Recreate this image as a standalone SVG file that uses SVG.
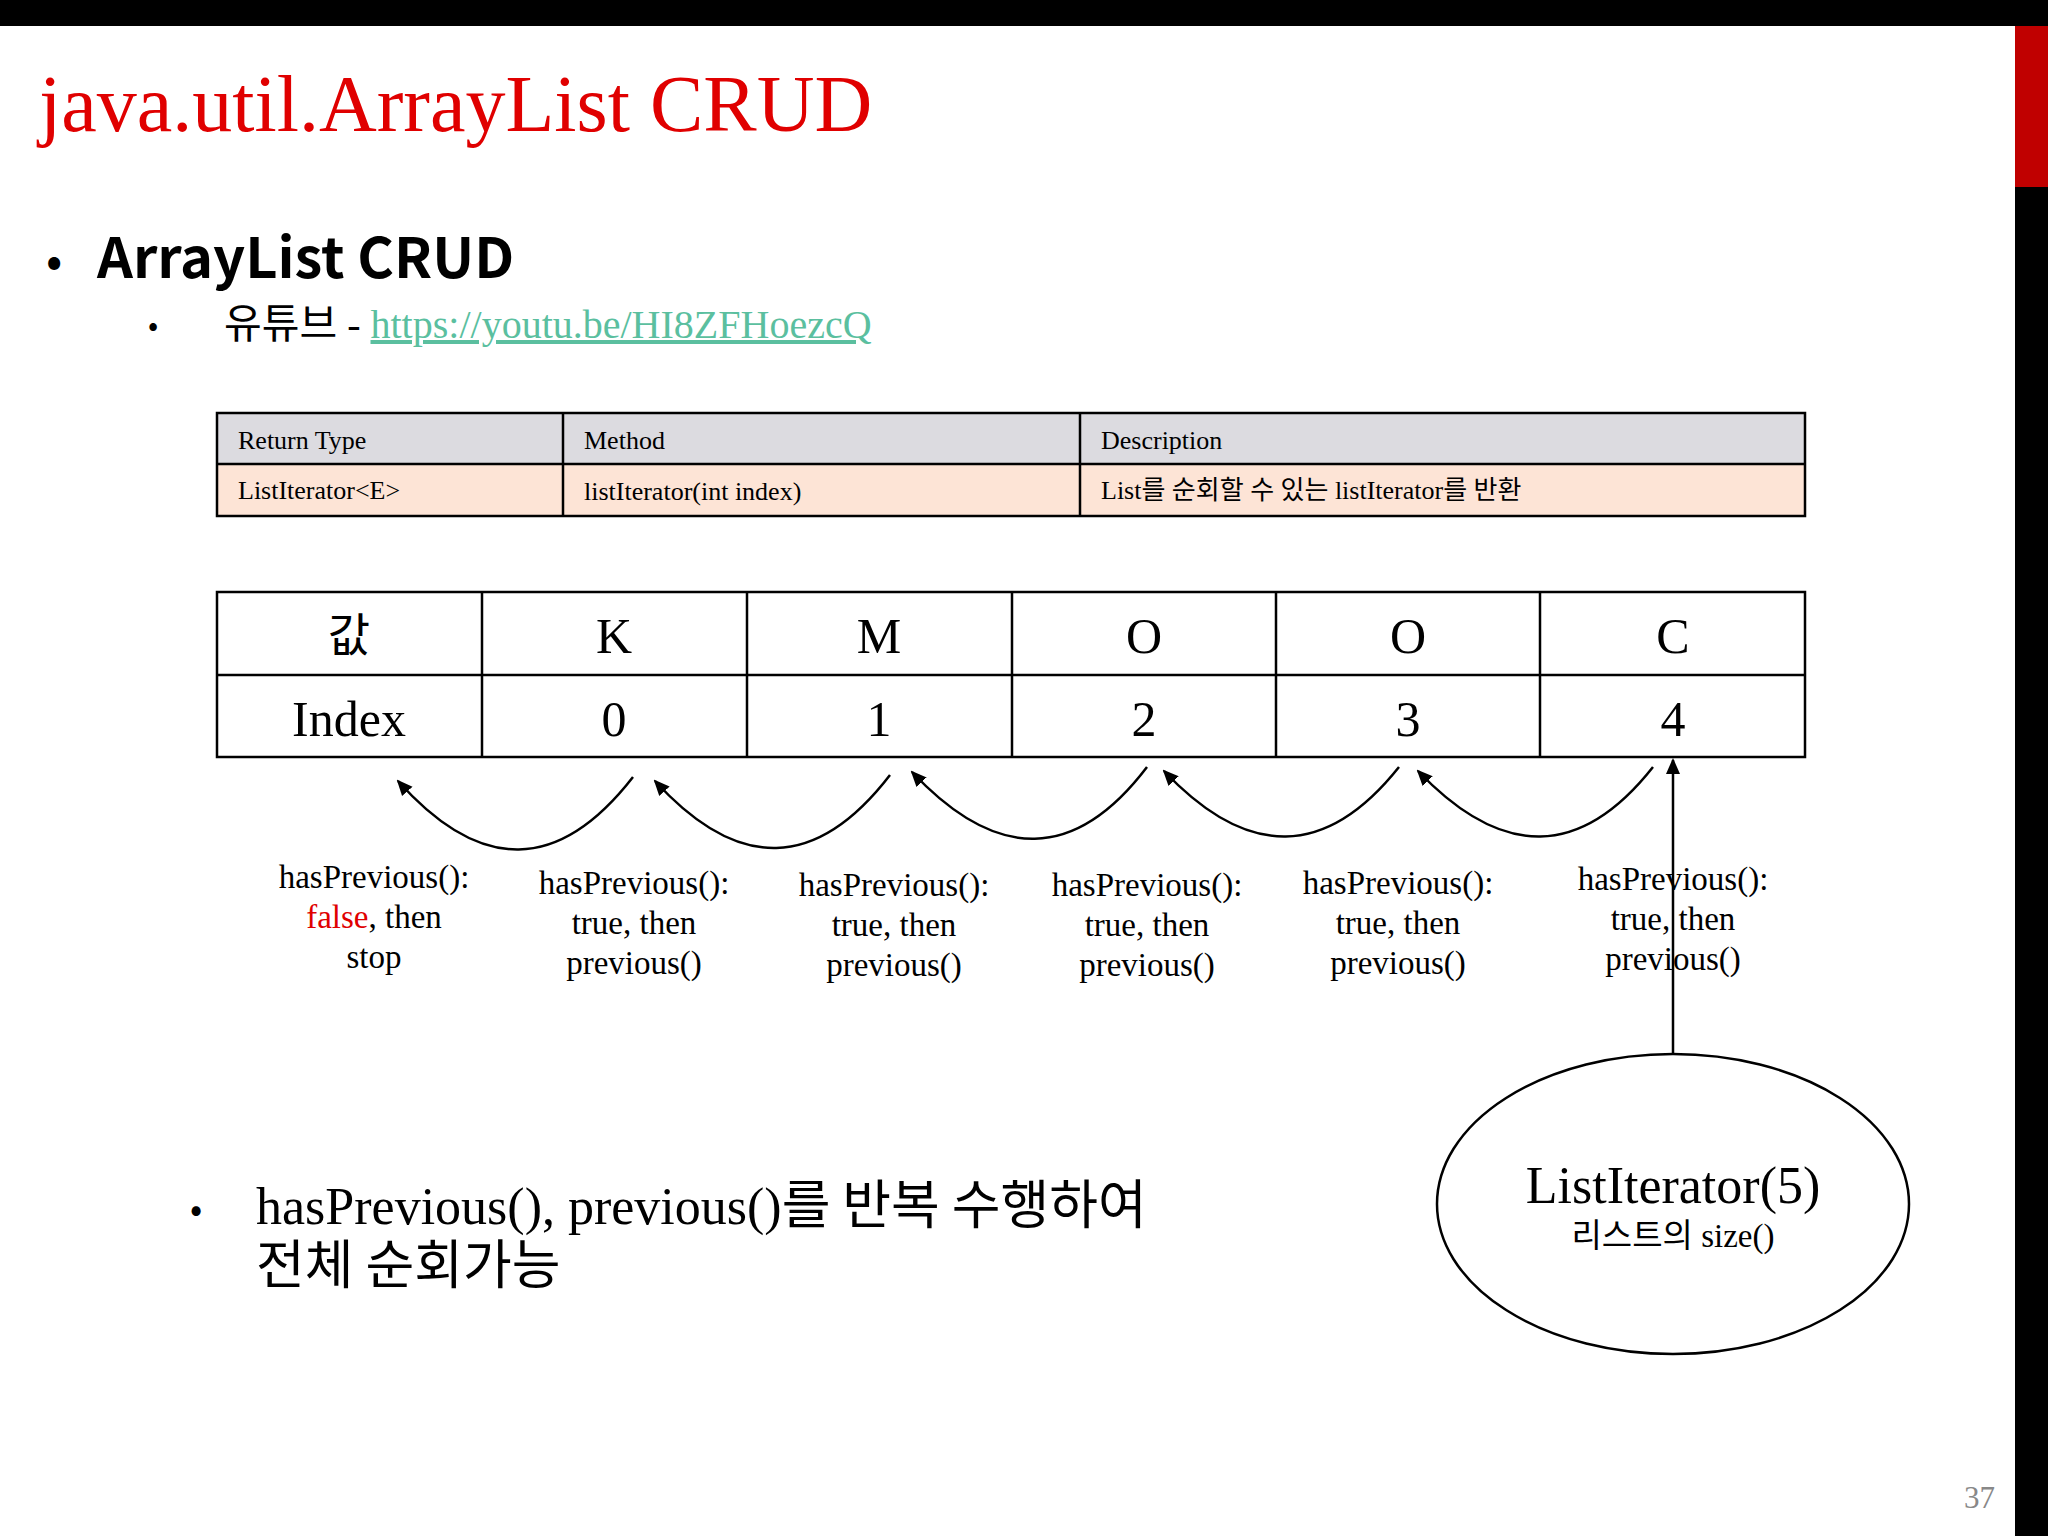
<svg xmlns="http://www.w3.org/2000/svg" width="2048" height="1536" viewBox="0 0 2048 1536">
<defs>
<style>
.s{font-family:"Liberation Serif","Noto Sans CJK KR",serif}
.k{font-family:"Noto Sans CJK KR","Noto Sans",sans-serif}
.t{font-size:26px}
.b{font-size:50px}
.l{font-size:33px}
.ln{fill:none;stroke:#000;stroke-width:2.5}
</style>
<marker id="ah2" markerWidth="16" markerHeight="16" refX="14" refY="8" orient="auto" markerUnits="userSpaceOnUse" viewBox="0 0 16 16"><path d="M0,1L16,8L0,15z" fill="#000"/></marker>
</defs>
<rect width="2048" height="1536" fill="#fff"/>
<rect width="2048" height="26" fill="#000"/>
<rect x="2015" y="26" width="33" height="1510" fill="#000"/>
<rect x="2015" y="26" width="33" height="161" fill="#c00000"/>
<text x="39" y="131" class="s" font-size="80" fill="#e00000">java.util.ArrayList CRUD</text>
<text x="46" y="278" class="k" font-size="48">•</text>
<text x="97" y="278" class="k" font-size="56" font-weight="bold">ArrayList CRUD</text>
<text x="148" y="336" class="k" font-size="30">•</text>
<text x="224" y="338" class="s" font-size="40"><tspan class="k" font-size="41">유튜브</tspan> - <tspan fill="#5bbf9f" text-decoration="underline">https://youtu.be/HI8ZFHoezcQ</tspan></text>
<g id="table1">
<rect x="217" y="413" width="1588" height="51" fill="#dcdbe0"/>
<rect x="217" y="464" width="1588" height="52" fill="#fde4d6"/>
<rect x="217" y="413" width="1588" height="103" class="ln" stroke-width="3"/>
<path d="M217 464H1805M563 413V516M1080 413V516" class="ln"/>
<text x="238" y="449" class="s t">Return Type</text>
<text x="584" y="449" class="s t">Method</text>
<text x="1101" y="449" class="s t">Description</text>
<text x="238" y="499" class="s t">ListIterator&lt;E&gt;</text>
<text x="584" y="500" class="s t">listIterator(int index)</text>
<text x="1101" y="499" class="s t">List를 순회할 수 있는 listIterator를 반환</text>
</g>
<g id="table2">
<rect x="217" y="592" width="1588" height="165" class="ln" stroke-width="3" fill="#fff"/>
<path d="M217 675H1805M482 592V757M747 592V757M1012 592V757M1276 592V757M1540 592V757" class="ln"/>
<g class="s b" text-anchor="middle">
<text x="349" y="651" class="k" font-size="46">값</text>
<text x="614" y="653">K</text><text x="879" y="653">M</text><text x="1144" y="653">O</text><text x="1408" y="653">O</text><text x="1673" y="653">C</text>
<text x="349" y="736">Index</text>
<text x="614" y="736">0</text><text x="879" y="736">1</text><text x="1144" y="736">2</text><text x="1408" y="736">3</text><text x="1673" y="736">4</text>
</g>
</g>
<g id="connectors" class="ln">
<path d="M633 777Q522 920 398 781" marker-end="url(#ah2)"/>
<path d="M890 775Q780 918 655 781" marker-end="url(#ah2)"/>
<path d="M1147 767Q1040 908 912 772" marker-end="url(#ah2)"/>
<path d="M1399 767Q1290 904 1164 771" marker-end="url(#ah2)"/>
<path d="M1653 767Q1545 904 1418 771" marker-end="url(#ah2)"/>
<path d="M1673 1054V760" marker-end="url(#ah2)"/>
</g>
<g id="labels" class="s l" text-anchor="middle">
<text x="374" y="888">hasPrevious():</text>
<text x="374" y="928"><tspan fill="#e00000">false</tspan>, then</text>
<text x="374" y="968">stop</text>
<text x="634" y="894">hasPrevious():</text><text x="634" y="934">true, then</text><text x="634" y="974">previous()</text>
<text x="894" y="896">hasPrevious():</text><text x="894" y="936">true, then</text><text x="894" y="976">previous()</text>
<text x="1147" y="896">hasPrevious():</text><text x="1147" y="936">true, then</text><text x="1147" y="976">previous()</text>
<text x="1398" y="894">hasPrevious():</text><text x="1398" y="934">true, then</text><text x="1398" y="974">previous()</text>
<text x="1673" y="890">hasPrevious():</text><text x="1673" y="930">true, then</text><text x="1673" y="970">previous()</text>
</g>
<g id="iterator">
<ellipse cx="1673" cy="1204" rx="236" ry="150" class="ln"/>
<text x="1673" y="1203" class="s" font-size="52" text-anchor="middle">ListIterator(5)</text>
<text x="1673" y="1247" class="s" font-size="33" text-anchor="middle"><tspan class="k" font-size="33">리스트의</tspan> size()</text>
</g>
<text x="190" y="1222" class="k" font-size="36">•</text>
<text x="256" y="1224" class="s" font-size="52">hasPrevious(), previous()<tspan class="k" font-size="53">를 반복 수행하여</tspan></text>
<text x="256" y="1284" class="k" font-size="53">전체 순회가능</text>
<text x="1964" y="1508" class="s" font-size="31" fill="#888">37</text>
</svg>
